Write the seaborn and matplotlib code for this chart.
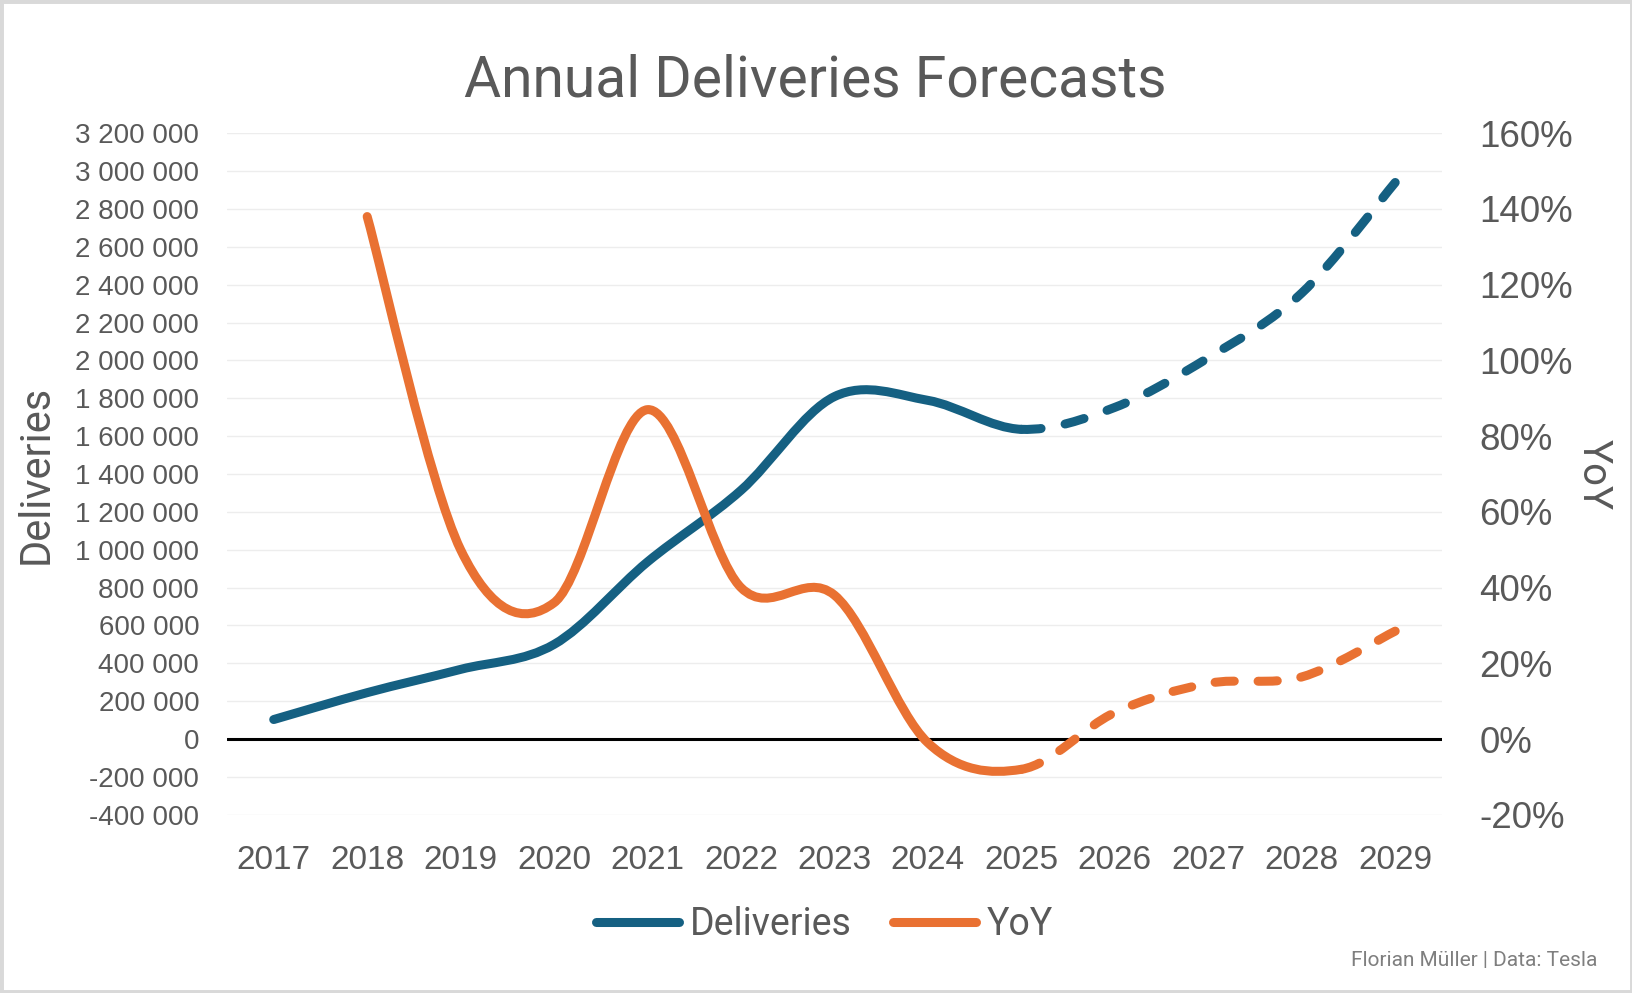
import numpy as np
import pandas as pd
import matplotlib
matplotlib.use("Agg")
import matplotlib.pyplot as plt
import seaborn as sns
from matplotlib.path import Path
from matplotlib.patches import PathPatch, Rectangle
from matplotlib.lines import Line2D
from matplotlib.ticker import FuncFormatter, MultipleLocator

# data
years = [2017, 2018, 2019, 2020, 2021, 2022, 2023, 2024, 2025, 2026, 2027, 2028, 2029]
deliveries = [103000, 245000, 368000, 500000, 936000, 1314000, 1809000, 1789000,
              1636000, 1752000, 2014000, 2356000, 2940000]
yoy = [np.nan, 1.38, 0.50, 0.36, 0.87, 0.40, 0.38, -0.01, -0.08, 0.07, 0.147, 0.164, 0.285]
forecast_from = 2025

df = pd.DataFrame({"Year": years, "Deliveries": deliveries, "YoY": yoy})

BLUE = "#156082"
ORANGE = "#E97132"
TXT = "#595959"
LW = 6.5
DASH, GAP = 2.1, 2.6

sns.set_theme(style="white")
plt.rcParams["font.family"] = ["Roboto", "DejaVu Sans"]
TICKFONT = ["Liberation Sans", "DejaVu Sans"]


def smooth_segments(x, y):
    # excel-like smoothed line: cubic bezier through the points (catmull-rom, 1/6 tension)
    pts = np.column_stack([x, y]).astype(float)
    pts = pts[~np.isnan(pts[:, 1])]
    n = len(pts)
    segs = []
    for i in range(n - 1):
        p0 = pts[i - 1] if i > 0 else pts[i]
        p1, p2 = pts[i], pts[i + 1]
        p3 = pts[i + 2] if i + 2 < n else pts[i + 1]
        c1 = p1 + (p2 - p0) / 6
        c2 = p2 - (p3 - p1) / 6
        segs.append((p1, c1, c2, p2))
    return segs


def build_path(part):
    verts = [part[0][0]]
    codes = [Path.MOVETO]
    for p1, c1, c2, p2 in part:
        verts += [c1, c2, p2]
        codes += [Path.CURVE4] * 3
    return Path(verts, codes)


def fitted_dashes(ax, path):
    # stretch the dash pattern a little so the last dash ends on the last point
    poly = path.transformed(ax.transData).to_polygons(closed_only=False)[0]
    length = np.sum(np.hypot(*np.diff(poly, axis=0).T)) * 72 / ax.figure.dpi
    period = (DASH + GAP) * LW
    k = max(1, round((length - DASH * LW) / period))
    s = length / (k * period + DASH * LW)
    return (0, (DASH * s, GAP * s))


def draw_smooth(ax, x, y, color):
    segs = smooth_segments(x, y)
    solid = [s for s in segs if s[0][0] < forecast_from]
    dashed = [s for s in segs if s[0][0] >= forecast_from]
    for part, is_dashed in ((solid, False), (dashed, True)):
        if not part:
            continue
        path = build_path(part)
        ls = fitted_dashes(ax, path) if is_dashed else "-"
        ax.add_patch(PathPatch(path, fill=False, edgecolor=color, lw=LW, linestyle=ls,
                               capstyle="round", joinstyle="round", zorder=3))


fig = plt.figure(figsize=(16.33, 9.93), dpi=100)
fig.patch.set_facecolor("white")
ax = fig.add_axes([0.1390, 0.1795, 0.7440, 0.6863])
ax2 = ax.twinx()

ax.set_xlim(2016.5, 2029.5)
ax.set_ylim(-400000, 3200000)
ax2.set_ylim(-0.2, 1.6)

ax.yaxis.set_major_locator(MultipleLocator(200000))
ax.yaxis.set_major_formatter(FuncFormatter(lambda v, p: f"{int(v):,}".replace(",", " ")))
ax2.yaxis.set_major_locator(MultipleLocator(0.2))
ax2.yaxis.set_major_formatter(FuncFormatter(lambda v, p: f"{v*100:.0f}%"))
ax.set_xticks(years)

ax.grid(axis="y", color="#EDEDED", lw=1)
ax.set_axisbelow(True)
ax.axhline(0, color="black", lw=2.2, zorder=2)

for a in (ax, ax2):
    for s in a.spines.values():
        s.set_visible(False)
    a.tick_params(length=0)

ax.tick_params(axis="y", pad=20, colors=TXT)
ax.tick_params(axis="x", pad=22, colors=TXT)
ax2.tick_params(axis="y", pad=27, colors=TXT)
for t in ax.get_yticklabels():
    t.set_fontfamily(TICKFONT); t.set_fontsize(20)
for t in ax.get_xticklabels():
    t.set_fontfamily(TICKFONT); t.set_fontsize(24)
for t in ax2.get_yticklabels():
    t.set_fontfamily(TICKFONT); t.set_fontsize(26.5)

draw_smooth(ax, df["Year"], df["Deliveries"], BLUE)
draw_smooth(ax2, df["Year"], df["YoY"], ORANGE)

fig.text(0.022, 0.522, "Deliveries", rotation=90, ha="center", va="center",
         fontsize=30, color=TXT)
fig.text(0.976, 0.522, "YoY", rotation=270, ha="center", va="center",
         fontsize=29, color=TXT)
fig.text(0.4995, 0.918, "Annual Deliveries Forecasts", ha="center", va="center",
         fontsize=41, color=TXT)
fig.text(0.978, 0.033, "Florian Müller | Data: Tesla", ha="right", va="center",
         fontsize=15, color="#7F7F7F")

handles = [Line2D([], [], color=BLUE, lw=LW, solid_capstyle="round"),
           Line2D([], [], color=ORANGE, lw=LW, solid_capstyle="round")]
fig.legend(handles, ["Deliveries", "YoY"], loc="center", bbox_to_anchor=(0.505, 0.069),
           ncol=2, frameon=False, fontsize=27, handlelength=2.2, handletextpad=0.3,
           columnspacing=1.1, labelcolor=TXT)

fig.patches.append(Rectangle((0, 0), 1, 1, transform=fig.transFigure, fill=False,
                             edgecolor="#D9D9D9", lw=5))

fig.savefig("out.png", dpi=100)
